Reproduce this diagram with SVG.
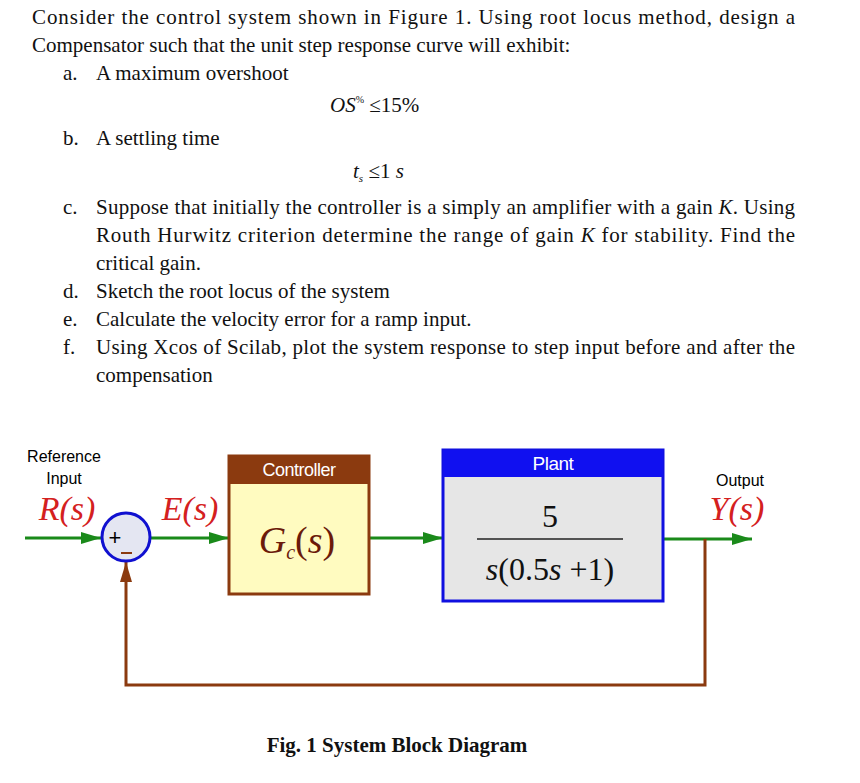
<svg xmlns="http://www.w3.org/2000/svg" width="860" height="783" viewBox="0 0 860 783">
<style>
.t{font-family:"Liberation Serif",serif;font-size:21px;fill:#111}
.m{font-family:"Liberation Serif",serif;font-style:italic}
.s{font-family:"Liberation Sans",Arial,sans-serif}
.g{stroke:#1a8a1a;stroke-width:3;fill:none}
.b{stroke:#8b3a0f;stroke-width:3;fill:none}
</style>
<defs>
<marker id="ag" markerWidth="20" markerHeight="12" refX="20" refY="6" orient="auto" markerUnits="userSpaceOnUse" viewBox="0 0 20 12"><path d="M0,0 L20,6 L0,12 z" fill="#1a8a1a"/></marker>
<marker id="ab" markerWidth="20" markerHeight="12" refX="20" refY="6" orient="auto" markerUnits="userSpaceOnUse" viewBox="0 0 20 12"><path d="M0,0 L20,6 L0,12 z" fill="#8b3a0f"/></marker>
</defs>
<rect width="860" height="783" fill="#fff"/>
<g id="text">
<text class="t" x="32" y="24" textLength="763" lengthAdjust="spacing">Consider the control system shown in Figure 1. Using root locus method, design a</text>
<text class="t" x="32" y="52">Compensator such that the unit step response curve will exhibit:</text>
<text class="t" x="63" y="80">a.</text><text class="t" x="96" y="80">A maximum overshoot</text>
<text class="t" x="330" y="112"><tspan class="m">OS</tspan><tspan font-size="10" dy="-9">%</tspan><tspan dy="9"> ≤15%</tspan></text>
<text class="t" x="353" y="178"><tspan class="m">t</tspan><tspan class="m" font-size="11" dy="4">s</tspan><tspan dy="-4"> ≤1</tspan><tspan class="m"> s</tspan></text>
<text class="t" x="63" y="145">b.</text><text class="t" x="96" y="145">A settling time</text>
<text class="t" x="63" y="214">c.</text><text class="t" x="96" y="214" textLength="699" lengthAdjust="spacing">Suppose that initially the controller is a simply an amplifier with a gain <tspan font-style="italic">K</tspan>. Using</text>
<text class="t" x="96" y="242" textLength="699" lengthAdjust="spacing">Routh Hurwitz criterion determine the range of gain <tspan font-style="italic">K</tspan> for stability. Find the</text>
<text class="t" x="96" y="270">critical gain.</text>
<text class="t" x="63" y="298">d.</text><text class="t" x="96" y="298">Sketch the root locus of the system</text>
<text class="t" x="63" y="326">e.</text><text class="t" x="96" y="326">Calculate the velocity error for a ramp input.</text>
<text class="t" x="63" y="354">f.</text><text class="t" x="96" y="354" textLength="699" lengthAdjust="spacing">Using Xcos of Scilab, plot the system response to step input before and after the</text>
<text class="t" x="96" y="382">compensation</text>
<text class="t" x="397" y="752" text-anchor="middle" font-weight="bold">Fig. 1 System Block Diagram</text>
</g>
<g id="connectors">
<line class="g" x1="25" y1="538" x2="101" y2="538" marker-end="url(#ag)"/>
<line class="g" x1="151" y1="538" x2="229" y2="538" marker-end="url(#ag)"/>
<line class="g" x1="369" y1="538" x2="443" y2="538" marker-end="url(#ag)"/>
<line class="g" x1="663" y1="539" x2="752" y2="539" marker-end="url(#ag)"/>
<polyline class="b" points="705,539 705,685 126,685 126,562" marker-end="url(#ab)"/>
</g>
<g id="labels">
<text class="s" x="64" y="462" font-size="16" text-anchor="middle">Reference</text>
<text class="s" x="64" y="484" font-size="16" text-anchor="middle">Input</text>
<text class="m" x="67" y="520" font-size="34" fill="#d42020" text-anchor="middle">R(s)</text>
<text class="m" x="190" y="520" font-size="34" fill="#d42020" text-anchor="middle">E(s)</text>
<text class="s" x="740" y="486" font-size="16" text-anchor="middle">Output</text>
<text class="m" x="737" y="520" font-size="34" fill="#d42020" text-anchor="middle">Y(s)</text>
</g>
<g id="sum">
<circle cx="126" cy="537" r="24" fill="#e4e6f2" stroke="#1010d0" stroke-width="3"/>
<text class="s" x="115" y="545" font-size="22" text-anchor="middle">+</text>
<line x1="121" y1="553" x2="132" y2="553" stroke="#8b3a0f" stroke-width="2"/>
</g>
<g id="controller">
<rect x="229" y="456" width="140" height="138" fill="#fffbc0" stroke="#8b3a0f" stroke-width="3"/>
<rect x="229" y="456" width="140" height="28" fill="#8b3a0f"/>
<text class="s" x="299" y="476" font-size="18" fill="#fff" text-anchor="middle" letter-spacing="-0.5">Controller</text>
<text x="297" y="553" font-size="38" fill="#6b1a0a" text-anchor="middle" font-family="Liberation Serif,serif"><tspan font-style="italic">G</tspan><tspan font-style="italic" font-size="20" dy="6">c</tspan><tspan dy="-6">(</tspan><tspan font-style="italic">s</tspan>)</text>
</g>
<g id="plant">
<rect x="443" y="450" width="220" height="151" fill="#e6e6e6" stroke="#1010e0" stroke-width="3"/>
<rect x="443" y="450" width="220" height="27" fill="#1010f0"/>
<text class="s" x="553" y="470" font-size="19" fill="#fff" text-anchor="middle" letter-spacing="-0.5">Plant</text>
<text x="550" y="527" font-size="32" fill="#111" text-anchor="middle" font-family="Liberation Serif,serif">5</text>
<line x1="477" y1="539" x2="623" y2="539" stroke="#222" stroke-width="1.5"/>
<text x="550" y="580" font-size="32" fill="#111" text-anchor="middle" font-family="Liberation Serif,serif"><tspan font-style="italic">s</tspan>(0.5<tspan font-style="italic">s</tspan> +1)</text>
</g>
</svg>
